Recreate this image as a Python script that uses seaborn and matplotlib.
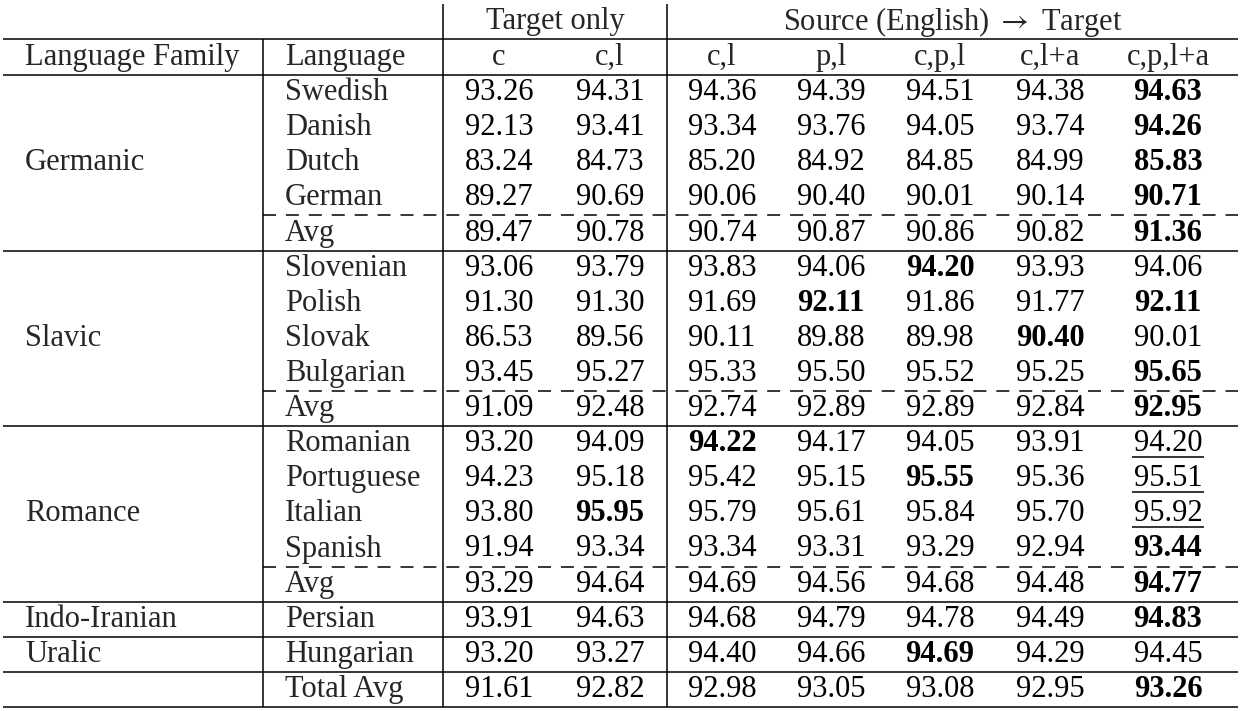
import numpy as np
import pandas as pd
import matplotlib
matplotlib.use("Agg")
import matplotlib.pyplot as plt
from matplotlib.colors import ListedColormap
import seaborn as sns

# data
families = ["Germanic", "Slavic", "Romance", "Indo-Iranian", "Uralic"]
family_rows = [2.5, 7.5, 12.5, 15.5, 16.5]
languages = ["Swedish", "Danish", "Dutch", "German", "Avg",
             "Slovenian", "Polish", "Slovak", "Bulgarian", "Avg",
             "Romanian", "Portuguese", "Italian", "Spanish", "Avg",
             "Persian", "Hungarian", "Total Avg"]
columns = ["c", "c,l", "c,l", "p,l", "c,p,l", "c,l+a", "c,p,l+a"]

target_c = [93.26, 92.13, 83.24, 89.27, 89.47, 93.06, 91.30, 86.53, 93.45, 91.09,
            93.20, 94.23, 93.80, 91.94, 93.29, 93.91, 93.20, 91.61]
target_cl = [94.31, 93.41, 84.73, 90.69, 90.78, 93.79, 91.30, 89.56, 95.27, 92.48,
             94.09, 95.18, 95.95, 93.34, 94.64, 94.63, 93.27, 92.82]
src_cl = [94.36, 93.34, 85.20, 90.06, 90.74, 93.83, 91.69, 90.11, 95.33, 92.74,
          94.22, 95.42, 95.79, 93.34, 94.69, 94.68, 94.40, 92.98]
src_pl = [94.39, 93.76, 84.92, 90.40, 90.87, 94.06, 92.11, 89.88, 95.50, 92.89,
          94.17, 95.15, 95.61, 93.31, 94.56, 94.79, 94.66, 93.05]
src_cpl = [94.51, 94.05, 84.85, 90.01, 90.86, 94.20, 91.86, 89.98, 95.52, 92.89,
           94.05, 95.55, 95.84, 93.29, 94.68, 94.78, 94.69, 93.08]
src_cla = [94.38, 93.74, 84.99, 90.14, 90.82, 93.93, 91.77, 90.40, 95.25, 92.84,
           93.91, 95.36, 95.70, 92.94, 94.48, 94.49, 94.29, 92.95]
src_cpla = [94.63, 94.26, 85.83, 90.71, 91.36, 94.06, 92.11, 90.01, 95.65, 92.95,
            94.20, 95.51, 95.92, 93.44, 94.77, 94.83, 94.45, 93.26]

# (row, col) of bold and underlined cells
bold_cells = [(0, 6), (1, 6), (2, 6), (3, 6), (4, 6), (5, 4), (6, 3), (6, 6),
              (7, 5), (8, 6), (9, 6), (10, 2), (11, 4), (12, 1), (13, 6),
              (14, 6), (15, 6), (16, 4), (17, 6)]
underlined_cells = [(10, 6), (11, 6), (12, 6)]

values = np.array([target_c, target_cl, src_cl, src_pl, src_cpl, src_cla, src_cpla]).T
df = pd.DataFrame(values, index=languages)

sns.set_theme(style="white")
plt.rcParams["font.family"] = ["Liberation Serif", "DejaVu Serif"]
plt.rcParams["mathtext.fontset"] = "stix"
FS = 22
LW = 1.1

fig = plt.figure(figsize=(12.42, 7.11), dpi=100)
ax = fig.add_axes([0, 0, 1, 1])
sns.heatmap(df, ax=ax, cmap=ListedColormap(["white"]), cbar=False, annot=True,
            fmt=".2f", xticklabels=False, yticklabels=False,
            annot_kws={"fontsize": FS, "color": "black"})

# pixel -> data mapping
cw = (1238 - 443) / 7.0
rh = (707 - 75) / 18.0
def px(x):
    return (x - 443) / cw
def py(y):
    return (y - 75) / rh

# column centres follow the uneven LaTeX column widths
col_x = [px(v) for v in [499, 610, 722, 831, 940, 1050, 1168]]

ncol = values.shape[1]
for k, t in enumerate(ax.texts):
    t.set_fontfamily(["Liberation Serif", "DejaVu Serif"])
    t.set_x(col_x[k % ncol])
for r, c in bold_cells:
    ax.texts[r * ncol + c].set_fontweight("bold")

ax.set_xlim(px(0), px(1242))
ax.set_ylim(py(711), py(0))
ax.set_axis_off()

x0, x1 = px(3), px(1238)
kw = dict(color="black", lw=LW, solid_capstyle="butt")
# horizontal rules
for y in [py(39), 0, 5, 10, 15, 16, 17, 18]:
    ax.plot([x0, x1], [y, y], **kw)
# vertical rules
ax.plot([px(263)] * 2, [py(39), 18], **kw)
ax.plot([0, 0], [py(4), 18], **kw)
ax.plot([px(667)] * 2, [py(4), 18], **kw)
# dashed rules above the Avg rows
for y in [4, 9, 14]:
    ax.plot([px(263), x1], [y, y], color="black", lw=LW,
            linestyle=(0, (8.5, 6.5)))
# underlines
uw = 36 / cw
for r, c in underlined_cells:
    ax.plot([col_x[c] - uw, col_x[c] + uw], [r + 0.88, r + 0.88], **kw)

# headers
yh1 = (py(4) + py(39)) / 2
yh2 = (py(39) + 0) / 2
ax.text(px(555), yh1, "Target only", ha="center", va="center", fontsize=FS)
ax.text(px(953), yh1, r"Source (English) $\rightarrow$ Target", ha="center",
        va="center", fontsize=FS)
ax.text(px(25), yh2, "Language Family", ha="left", va="center", fontsize=FS)
ax.text(px(285), yh2, "Language", ha="left", va="center", fontsize=FS)
for j, name in enumerate(columns):
    ax.text(col_x[j], yh2, name, ha="center", va="center", fontsize=FS)

# row labels
for i, name in enumerate(languages):
    ax.text(px(285), i + 0.5, name, ha="left", va="center", fontsize=FS)
for name, r in zip(families, family_rows):
    ax.text(px(25), r, name, ha="left", va="center", fontsize=FS)

fig.savefig("out.png", dpi=100)
